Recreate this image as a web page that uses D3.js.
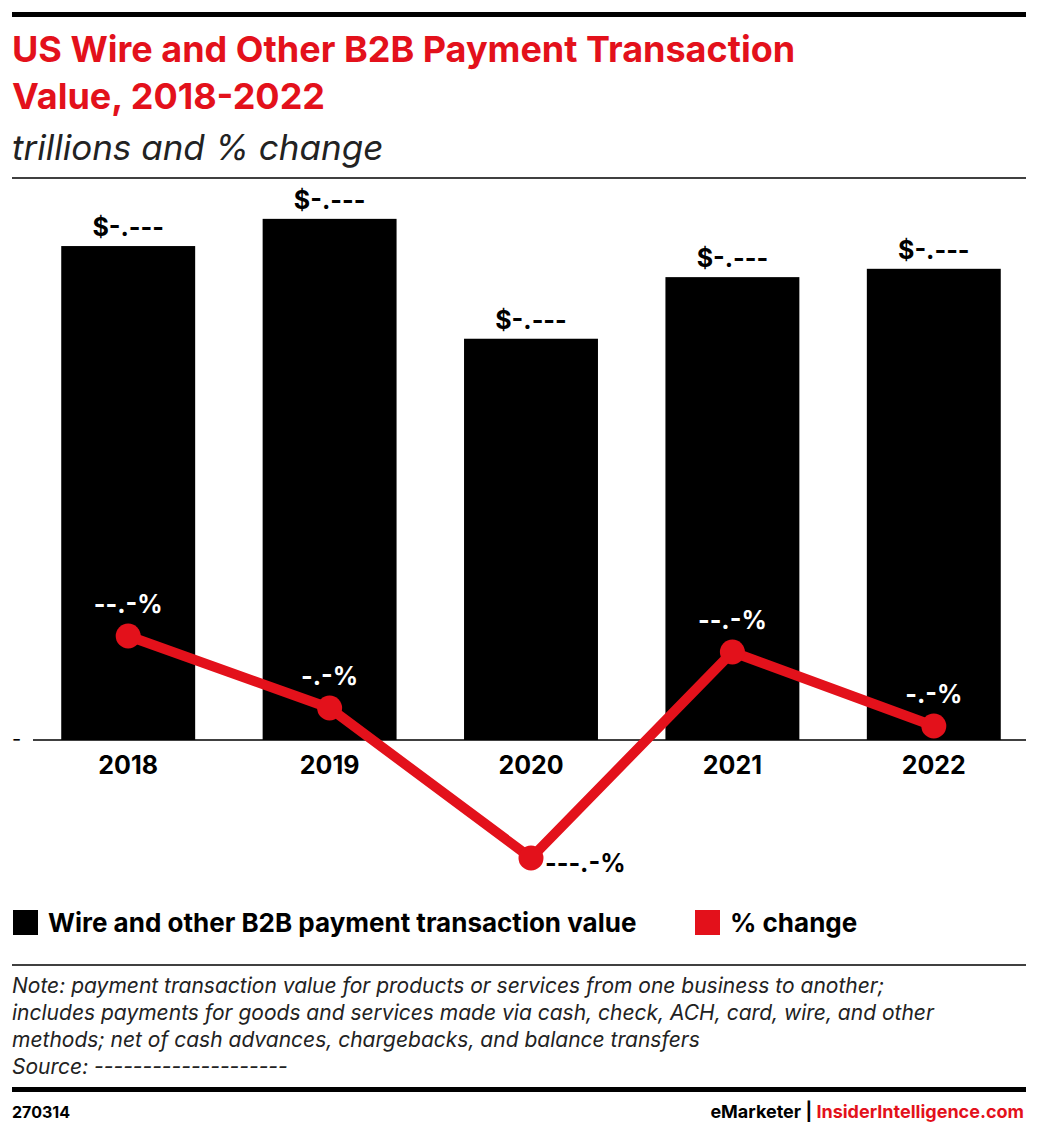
<!DOCTYPE html>
<html>
<head>
<meta charset="utf-8">
<script src="https://cdn.jsdelivr.net/npm/d3@7"></script>
<style>
  body { margin: 0; background: #fff; }
  text { font-family: Inter, "Noto Sans", sans-serif; }
</style>
</head>
<body>
<svg id="chart" width="1038" height="1137"></svg>
<script>
const years = ["2018", "2019", "2020", "2021", "2022"];
const values = [8.90, 9.39, 7.23, 8.34, 8.49];
const valueLabels = ["$-.---", "$-.---", "$-.---", "$-.---", "$-.---"];
const pctChange = [13, 4, -14.75, 11, 1.75];
const pctLabels = ["--.-%", "-.-%", "---.-%", "--.-%", "-.-%"];

var red = "#e3111b";
var svg = d3.select("#chart");

// header
svg.append("rect").attr("x", 12).attr("y", 12).attr("width", 1014).attr("height", 5).attr("fill", "#000");
svg.append("text").attr("x", 12).attr("y", 62).attr("fill", red)
  .style("font-size", "36px").style("font-weight", 700).text("US Wire and Other B2B Payment Transaction");
svg.append("text").attr("x", 12).attr("y", 109).attr("fill", red)
  .style("font-size", "36px").style("font-weight", 700).text("Value, 2018-2022");
svg.append("text").attr("x", 12).attr("y", 160).attr("fill", "#222")
  .style("font-size", "35px").style("font-style", "italic").text("trillions and % change");
svg.append("line").attr("x1", 12).attr("x2", 1026).attr("y1", 178).attr("y2", 178).attr("stroke", "#000").attr("stroke-width", 1.5);

var base = 740;
var x = d3.scaleBand().domain(years).range([27, 1035]).paddingInner(0.335).paddingOuter(0.17);
var y = d3.scaleLinear().domain([0, 10]).range([base, 185]);
var yp = d3.scaleLinear().domain([0, 10]).range([base, 660]);

svg.selectAll(".bar").data(years).join("rect")
  .attr("x", d => x(d)).attr("width", x.bandwidth())
  .attr("y", (d, i) => y(values[i])).attr("height", (d, i) => base - y(values[i]))
  .attr("fill", "#000");

svg.selectAll(".vlab").data(years).join("text")
  .attr("x", d => x(d) + x.bandwidth() / 2).attr("y", (d, i) => y(values[i]) - 10)
  .attr("text-anchor", "middle").style("font-size", "25px").style("font-weight", 700)
  .text((d, i) => valueLabels[i]);

svg.append("line").attr("x1", 33).attr("x2", 1026).attr("y1", base).attr("y2", base).attr("stroke", "#000").attr("stroke-width", 1.5);
svg.append("text").attr("x", 12).attr("y", base + 6).style("font-size", "20px").text("-");

var xAxis = svg.append("g").attr("transform", `translate(0,${base})`)
  .call(d3.axisBottom(x).tickSize(0).tickPadding(16));
xAxis.select(".domain").remove();
xAxis.selectAll("text").style("font-size", "25px").style("font-weight", 700)
  .style("font-family", "Inter, sans-serif").attr("fill", "#000");

// % change line
var cx = d => x(d) + x.bandwidth() / 2;
var line = d3.line().x((d, i) => cx(years[i])).y(d => yp(d));
svg.append("path").datum(pctChange).attr("d", line)
  .attr("fill", "none").attr("stroke", red).attr("stroke-width", 10).attr("stroke-linejoin", "round");
svg.selectAll(".dot").data(pctChange).join("circle")
  .attr("cx", (d, i) => cx(years[i])).attr("cy", d => yp(d)).attr("r", 12.5).attr("fill", red);
svg.selectAll(".plab").data(pctChange).join("text")
  .attr("x", (d, i) => d < 0 ? cx(years[i]) + 14 : cx(years[i]))
  .attr("y", d => d < 0 ? yp(d) + 14 : yp(d) - 23)
  .attr("text-anchor", d => d < 0 ? "start" : "middle")
  .attr("fill", d => d < 0 ? "#000" : "#fff")
  .style("font-size", "25px").style("font-weight", 700)
  .text((d, i) => pctLabels[i]);

// legend
svg.append("rect").attr("x", 13).attr("y", 910).attr("width", 25).attr("height", 25).attr("fill", "#000");
svg.append("text").attr("x", 48).attr("y", 932).style("font-size", "26px").style("font-weight", 700)
  .text("Wire and other B2B payment transaction value");
svg.append("rect").attr("x", 695).attr("y", 910).attr("width", 25).attr("height", 25).attr("fill", red);
svg.append("text").attr("x", 730).attr("y", 932).style("font-size", "26px").style("font-weight", 700)
  .text("% change");

// notes
svg.append("line").attr("x1", 12).attr("x2", 1026).attr("y1", 965).attr("y2", 965).attr("stroke", "#000").attr("stroke-width", 1.5);
var notes = [
  "Note: payment transaction value for products or services from one business to another;",
  "includes payments for goods and services made via cash, check, ACH, card, wire, and other",
  "methods; net of cash advances, chargebacks, and balance transfers",
  "Source: --------------------"
];
svg.selectAll(".note").data(notes).join("text")
  .attr("x", 12).attr("y", (d, i) => 993 + i * 27)
  .style("font-size", "21px").style("font-style", "italic").attr("fill", "#222").text(d => d);

svg.append("rect").attr("x", 12).attr("y", 1087).attr("width", 1014).attr("height", 5).attr("fill", "#000");
svg.append("text").attr("x", 12).attr("y", 1118).style("font-size", "16px").style("font-weight", 700).text("270314");
var foot = svg.append("text").attr("x", 1024).attr("y", 1118).attr("text-anchor", "end")
  .style("font-size", "18px").style("font-weight", 700);
foot.append("tspan").text("eMarketer  |  ");
foot.append("tspan").attr("fill", red).text("InsiderIntelligence.com");
</script>
</body>
</html>
